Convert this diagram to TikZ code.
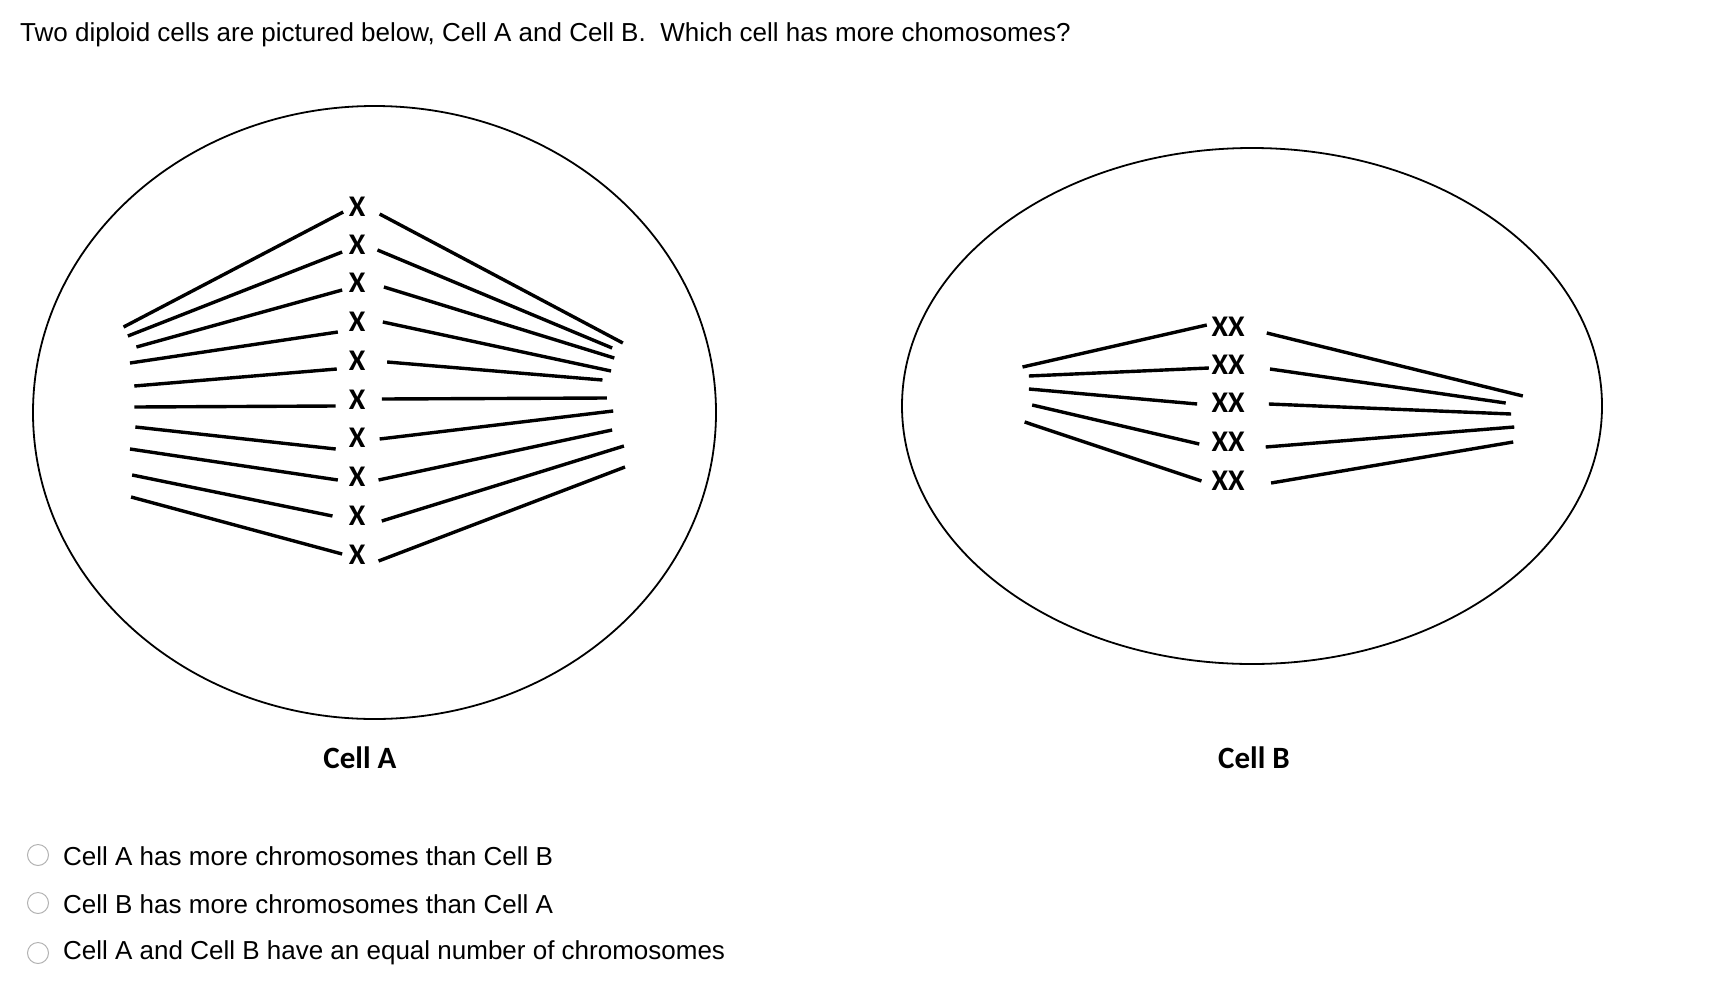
\documentclass[tikz,border=0pt]{standalone}
\usepackage{fontspec}
\setmainfont{Liberation Sans}
\newfontfamily\calib{Carlito}
\begin{document}
\begin{tikzpicture}[x=1pt,y=-1pt,
  fib/.style={line width=3.4pt},
  chrom/.style={font=\calib\bfseries\fontsize{30}{30}\selectfont, inner sep=0pt},
  lab/.style={font=\calib\bfseries\fontsize{31}{31}\selectfont, inner sep=0pt},
  txt/.style={font=\fontsize{26}{26}\selectfont, anchor=west, inner sep=0pt},
  radio/.style={circle, draw=gray!60, line width=1pt, minimum size=21pt, inner sep=0pt}]
\useasboundingbox (0,0) rectangle (1712,980);
\node[txt] (title) at (20,35) {Two diploid cells are pictured below, Cell A and Cell B.\ \ Which cell has more chomosomes?};
% Cell A
\draw[line width=1.8pt] (374.5,412.5) ellipse [x radius=341.5, y radius=306.5];
\begin{scope}[xshift=-7.14pt, xscale=1.0714]
\foreach \y [count=\i] in {207,245,283,322,361,400,438,477,516,555} \node[chrom] (xa\i) at (340,\y) {X};
\foreach \a/\b/\c/\d in {122/327/327/212,126/336/326/252,134/347/326/290,128/363/322/332,132/386/321/369,132/407/320/406,133/427/320/449,128/449/322/480,130/475/317/516,129/497/326/554,
 361/214/588/343,359/250/578/348,365/287/580/358,364/322/577/371,368/362/569/380,363/399/573/398,361/439/579/411,360/480/578/430,363/521/589/446,360/561/590/467}
  \draw[fib] (\a,\b) -- (\c,\d);
\end{scope}
\node[lab] (la) at (360,758) {Cell A};
% Cell B
\draw[line width=1.8pt] (1252,406) ellipse [x radius=350, y radius=258];
\begin{scope}[xshift=-71.4pt, xscale=1.0714]
\foreach \y [count=\i] in {327,365,403,442,481} \node[chrom] (xb\i) at (1213,\y) {XX};
\foreach \a/\b/\c/\d in {1021/367/1193/325,1027/376/1195/368,1027/389/1184/404,1030/405/1186/444,1023/422/1188/481,
 1249/333/1488/396,1252/369/1472/403,1251/404/1477/414,1248/447/1480/427,1253/483/1479/442}
  \draw[fib] (\a,\b) -- (\c,\d);
\end{scope}
\node[lab] (lb) at (1254,758) {Cell B};
% options
\node[radio] (r1) at (38,855) {};
\node[radio] (r2) at (38,903) {};
\node[radio] (r3) at (38,953) {};
\node[txt] (o1) at (63,856) {Cell A has more chromosomes than Cell B};
\node[txt] (o2) at (63,904) {Cell B has more chromosomes than Cell A};
\node[txt] (o3) at (63,953) {Cell A and Cell B have an equal number of chromosomes};
\end{tikzpicture}
\end{document}
